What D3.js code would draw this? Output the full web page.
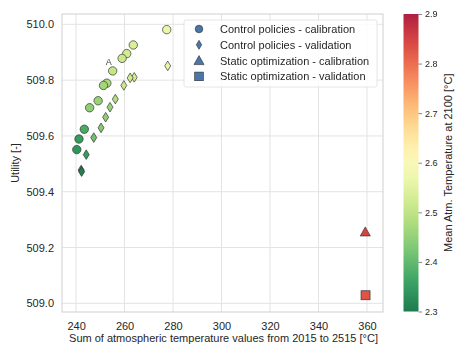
<!DOCTYPE html>
<html><head><meta charset="utf-8">
<script src="https://cdn.jsdelivr.net/npm/d3@7"></script>
<style>body{margin:0;background:#fff}svg{display:block;font-family:"Liberation Sans",Arial,sans-serif}</style>
</head><body><svg id="c" width="474" height="355"></svg>
<script>
// Data
const cpCalX = [277.4, 263.6, 260.9, 259.0, 255.1, 252.7, 251.3, 249.1, 245.6, 243.4, 241.2, 240.3];
const cpCalY = [509.981, 509.926, 509.895, 509.878, 509.833, 509.789, 509.781, 509.726, 509.701, 509.624, 509.589, 509.551];
const cpCalT = [2.57, 2.54, 2.53, 2.52, 2.51, 2.48, 2.47, 2.46, 2.45, 2.38, 2.36, 2.35];
const cpValX = [277.8, 264.0, 262.3, 259.7, 256.2, 254.0, 252.2, 250.3, 247.3, 244.2, 242.1, 242.3];
const cpValY = [509.851, 509.810, 509.808, 509.781, 509.732, 509.703, 509.667, 509.629, 509.594, 509.533, 509.478, 509.472];
const cpValT = [2.57, 2.53, 2.53, 2.52, 2.49, 2.46, 2.45, 2.44, 2.42, 2.36, 2.33, 2.32];
const soCalX = [359.3], soCalY = [509.256], soCalT = [2.84];
const soValX = [359.4], soValY = [509.029], soValT = [2.82];
const xTicks = [240, 260, 280, 300, 320, 340, 360];
const yTicks = [509.0, 509.2, 509.4, 509.6, 509.8, 510.0];
const cTicks = [2.3, 2.4, 2.5, 2.6, 2.7, 2.8, 2.9];
const legendLabels = ["Control policies - calibration", "Control policies - validation",
  "Static optimization - calibration", "Static optimization - validation"];
const annotationText = "A";

const svg = d3.select("#c");
const L = 62, T = 14, R = 383, B = 312;
const x = d3.scaleLinear().domain([234.2, 366.6]).range([L, R]);
const y = d3.scaleLinear().domain([508.969, 510.037]).range([B, T]);
const color = t => d3.interpolateRdYlGn(1 - (t - 2.3) / 0.6);
const txt = "#262626";

// grid
const g = svg.append("g");
g.selectAll(".gx").data(xTicks).join("line")
  .attr("x1", d => x(d)).attr("x2", d => x(d)).attr("y1", T).attr("y2", B)
  .attr("stroke", "#e3e3e3").attr("stroke-width", 1);
g.selectAll(".gy").data(yTicks).join("line")
  .attr("y1", d => y(d)).attr("y2", d => y(d)).attr("x1", L).attr("x2", R)
  .attr("stroke", "#e3e3e3").attr("stroke-width", 1);
svg.append("rect").attr("x", L).attr("y", T).attr("width", R - L).attr("height", B - T)
  .attr("fill", "none").attr("stroke", "#d4d4d4").attr("stroke-width", 1.1);

// axes labels
const xa = svg.append("g").attr("transform", `translate(0,${B})`)
  .call(d3.axisBottom(x).tickValues(xTicks).tickSize(0).tickPadding(10).tickFormat(d3.format("d")));
xa.select(".domain").remove();
xa.selectAll("text").attr("font-size", 11).attr("fill", txt).attr("font-family", "Liberation Sans, Arial, sans-serif");
const ya = svg.append("g").attr("transform", `translate(${L},0)`)
  .call(d3.axisLeft(y).tickValues(yTicks).tickSize(0).tickPadding(8).tickFormat(d3.format(".1f")));
ya.select(".domain").remove();
ya.selectAll("text").attr("font-size", 11).attr("fill", txt).attr("font-family", "Liberation Sans, Arial, sans-serif");

svg.append("text").attr("x", (L + R) / 2 + 1).attr("y", 342).attr("text-anchor", "middle")
  .attr("font-size", 11).attr("fill", txt).text("Sum of atmospheric temperature values from 2015 to 2515 [°C]");
svg.append("text").attr("transform", `translate(19,${(T + B) / 2}) rotate(-90)`).attr("text-anchor", "middle")
  .attr("font-size", 11).attr("fill", txt).text("Utility [-]");

// markers
const diamond = "M0,-4.8L3,0L0,4.8L-3,0Z";
const tri = "M0,-5L5,4L-5,4Z";
const mk = svg.append("g").attr("opacity", 0.92);
mk.selectAll(".cc").data(d3.range(cpCalX.length)).join("circle")
  .attr("cx", i => x(cpCalX[i])).attr("cy", i => y(cpCalY[i])).attr("r", 4.2)
  .attr("fill", i => color(cpCalT[i])).attr("stroke", "#222").attr("stroke-width", 0.7);
mk.selectAll(".cv").data(d3.range(cpValX.length)).join("path")
  .attr("d", diamond).attr("transform", i => `translate(${x(cpValX[i])},${y(cpValY[i])})`)
  .attr("fill", i => color(cpValT[i])).attr("stroke", "#222").attr("stroke-width", 0.7);
mk.selectAll(".sc").data(d3.range(soCalX.length)).join("path")
  .attr("d", tri).attr("transform", i => `translate(${x(soCalX[i])},${y(soCalY[i])})`)
  .attr("fill", i => color(soCalT[i])).attr("stroke", "#222").attr("stroke-width", 0.7);
mk.selectAll(".sv").data(d3.range(soValX.length)).join("rect")
  .attr("x", i => x(soValX[i]) - 4.5).attr("y", i => y(soValY[i]) - 4.5).attr("width", 9).attr("height", 9)
  .attr("fill", i => color(soValT[i])).attr("stroke", "#222").attr("stroke-width", 0.7);

// annotation
svg.append("text").attr("x", x(cpCalX[4]) - 4).attr("y", y(cpCalY[4]) - 6).attr("text-anchor", "middle")
  .attr("font-size", 9).attr("fill", "#444").text(annotationText);

// legend
const lg = svg.append("g");
lg.append("rect").attr("x", 184).attr("y", 20).attr("width", 193).attr("height", 67).attr("rx", 2)
  .attr("fill", "#fff").attr("fill-opacity", 0.85).attr("stroke", "#e0e0e0").attr("stroke-width", 0.8);
const lcol = "#4a76a8";
const shapes = [
  s => s.append("circle").attr("r", 3.8),
  s => s.append("path").attr("d", "M0,-4.5L2.7,0L0,4.5L-2.7,0Z"),
  s => s.append("path").attr("d", "M0,-5L5,4L-5,4Z"),
  s => s.append("rect").attr("x", -4.3).attr("y", -4.3).attr("width", 8.6).attr("height", 8.6)
];
legendLabels.forEach((lab, i) => {
  const row = lg.append("g").attr("transform", `translate(199,${29 + i * 15.8})`);
  shapes[i](row).attr("fill", lcol).attr("stroke", "#2a2a2a").attr("stroke-width", 0.6);
  row.append("text").attr("x", 21).attr("y", 4).attr("font-size", 11).attr("fill", txt).text(lab);
});

// colorbar
const cbX = 403.5, cbW = 15, cbT = 14, cbB = 311.5;
const defs = svg.append("defs");
const grad = defs.append("linearGradient").attr("id", "cg").attr("x1", 0).attr("y1", 1).attr("x2", 0).attr("y2", 0);
d3.range(0, 1.0001, 0.05).forEach(f => grad.append("stop").attr("offset", f).attr("stop-color", color(2.3 + 0.6 * f)));
svg.append("rect").attr("x", cbX).attr("y", cbT).attr("width", cbW).attr("height", cbB - cbT)
  .attr("fill", "url(#cg)").attr("opacity", 0.88);
const cy = d3.scaleLinear().domain([2.3, 2.9]).range([cbB, cbT]);
const ca = svg.append("g").attr("transform", `translate(${cbX + cbW},0)`)
  .call(d3.axisRight(cy).tickValues(cTicks).tickSize(3.5).tickPadding(3).tickFormat(d3.format(".1f")));
ca.select(".domain").remove();
ca.selectAll("line").attr("stroke", "#555").attr("stroke-width", 0.7);
ca.selectAll("text").attr("font-size", 9).attr("fill", txt).attr("font-family", "Liberation Sans, Arial, sans-serif");
svg.append("text").attr("transform", `translate(452,${(cbT + cbB) / 2}) rotate(-90)`).attr("text-anchor", "middle")
  .attr("font-size", 11).attr("fill", txt).text("Mean Atm. Temperature at 2100 [°C]");
</script></body></html>
